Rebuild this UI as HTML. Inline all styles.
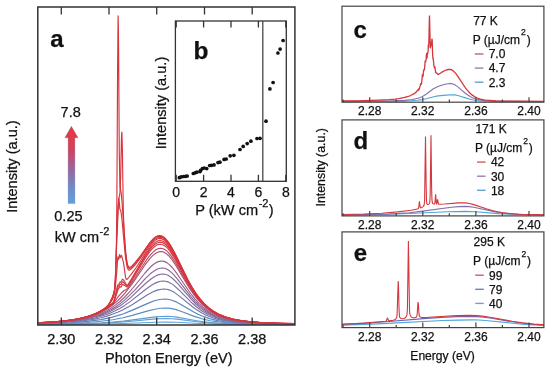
<!DOCTYPE html>
<html><head><meta charset="utf-8"><style>
html,body{margin:0;padding:0;background:#fff;width:550px;height:370px;overflow:hidden}
svg{display:block;font-family:"Liberation Sans",sans-serif;will-change:transform}
text{stroke:#111;stroke-width:0.25px}
</style></head><body>
<svg width="550" height="370" viewBox="0 0 550 370" font-family="Liberation Sans, sans-serif" fill="#111"><g fill="none" stroke-width="1.15" stroke-linejoin="round" clip-path="url(#clipa)"><path d="M19.5,324.4 L70.4,324.3 L101.4,324 L123.6,323.5 L155.8,322.2 L167,322 L177.3,322.2 L203.7,323.7 L219.5,324.1 L246,324.4 L296.1,324.5" stroke="rgb(94,166,216)" /><path d="M19.5,324.4 L70.4,324.1 L101.4,323.3 L123.6,322 L155.5,318.9 L166.8,318.5 L171.8,318.7 L177,319.1 L195.2,321.5 L203.5,322.5 L219.3,323.6 L245.7,324.2 L296.1,324.4" stroke="rgb(93,160,212)" /><path d="M19.5,324.3 L70.1,323.9 L87.1,323.5 L101.1,322.9 L112.6,322.1 L123.3,321.1 L155.3,316.9 L161,316.5 L166.5,316.3 L171.5,316.5 L176.8,317.1 L195.2,320.5 L203.3,321.7 L210.9,322.6 L219,323.2 L230.7,323.8 L245.5,324.1 L296.1,324.4" stroke="rgb(92,156,208)" /><path d="M19.5,324.2 L48.9,323.8 L70.4,323.3 L87.3,322.5 L101.1,321.3 L112.6,319.7 L123.1,317.7 L132.2,315.4 L148.9,310.6 L154.8,309.2 L160.6,308.3 L165.8,308 L170.8,308.4 L176.1,309.6 L180.8,311.2 L194.4,316.4 L202.8,319 L210.2,320.7 L218.3,321.9 L230,323 L245,323.7 L265.3,324.1 L296.1,324.3" stroke="rgb(89,142,197)" /><path d="M19.5,324 L48.9,323.5 L70.1,322.7 L87.1,321.4 L100.9,319.6 L112.4,317.1 L122.9,314 L131.9,310.4 L148.4,303.1 L154.4,300.8 L159.8,299.5 L165.1,299 L167.5,299.2 L170.1,299.7 L172.7,300.5 L175.4,301.6 L180.1,304 L193.7,312 L198,314.2 L202.1,316 L209.7,318.6 L217.8,320.6 L223.3,321.5 L229.5,322.2 L244.5,323.3 L264.8,323.9 L296.1,324.2" stroke="rgb(94,130,186)" /><path d="M19.5,323.8 L49.1,323.2 L70.6,322 L79.4,321.2 L87.3,320.3 L94.5,319.1 L101.1,317.7 L106.9,316.1 L112.4,314.3 L117.6,312.3 L122.6,309.9 L131.7,304.9 L147.9,294.6 L153.6,291.6 L156.5,290.4 L159.1,289.6 L161.8,289.2 L164.1,289 L166.5,289.2 L169.1,289.9 L171.8,291 L174.6,292.6 L179.4,296.1 L192.8,307 L197.1,310.1 L201.1,312.6 L204.9,314.6 L208.8,316.3 L212.8,317.8 L217.1,319.1 L222.8,320.4 L229,321.4 L236,322.2 L244.1,322.9 L264.6,323.7 L296.1,324.2" stroke="rgb(111,120,171)" /><path d="M19.5,323.7 L49.4,322.9 L60.8,322.3 L70.8,321.5 L79.7,320.6 L87.5,319.4 L94.7,318 L101.1,316.3 L105.9,314.7 L110.7,312.9 L115.2,310.8 L119.8,308.4 L124.8,305.4 L129.8,301.9 L145.8,289.2 L151.5,285.2 L154.6,283.4 L157.7,282.1 L160.6,281.3 L163.4,281 L165.8,281.2 L168.4,282.1 L171.1,283.4 L173.9,285.4 L178.7,289.7 L192.3,303.3 L196.6,307 L200.6,310 L204.5,312.5 L208.3,314.5 L212.3,316.3 L216.6,317.9 L222.4,319.5 L228.6,320.7 L235.5,321.7 L243.6,322.5 L252.9,323.1 L264.3,323.5 L296.1,324.1" stroke="rgb(126,113,161)" /><path d="M19.5,323.6 L49.6,322.7 L61.1,322 L71.1,321.2 L79.9,320.1 L87.8,318.7 L94.9,317 L101.4,315.1 L106.2,313.3 L110.9,311.1 L115.5,308.6 L119.8,306 L124.8,302.4 L129.8,298.3 L145.5,283.5 L151.3,278.7 L154.4,276.7 L157.5,275.1 L160.3,274.3 L162.9,274 L165.3,274.3 L168,275.3 L170.6,276.9 L173.2,279 L178.2,284.2 L191.6,299.7 L195.9,304 L199.9,307.6 L203.7,310.4 L207.8,313 L211.9,315 L216.2,316.8 L221.9,318.7 L228.1,320.1 L235.2,321.3 L243.4,322.2 L252.7,322.9 L264.1,323.4 L296.1,324" stroke="rgb(133,108,156)" /><path d="M19.5,323.5 L49.8,322.6 L61.3,321.8 L71.3,320.9 L80.1,319.6 L88,318.1 L95.2,316.3 L101.6,314.1 L106.4,312 L110.9,309.7 L115.5,307 L119.8,303.9 L124.5,300.1 L129.5,295.4 L134.6,290.3 L145.5,278.4 L151,273.2 L154.1,270.9 L157,269.3 L159.8,268.3 L162.5,268 L164.9,268.3 L167.5,269.5 L170.1,271.3 L172.7,273.7 L177.5,279.1 L191.1,296.8 L195.4,301.6 L199.4,305.6 L203.3,308.7 L207.3,311.6 L211.4,313.9 L215.7,315.9 L221.4,318 L227.6,319.6 L234.8,320.9 L242.9,322 L252.4,322.7 L263.9,323.3 L296.1,324" stroke="rgb(139,103,151)" /><path d="M19.5,323.5 L36.2,323 L50.1,322.4 L61.8,321.6 L71.8,320.5 L80.6,319.2 L88.5,317.5 L95.4,315.5 L101.9,313 L106.6,310.7 L111.2,308 L115.7,304.9 L120,301.5 L124.8,297 L129.8,291.7 L134.6,286 L145,273 L150.5,267 L153.6,264.3 L156.5,262.4 L159.1,261.4 L161.8,261 L164.1,261.4 L166.8,262.6 L169.4,264.6 L172.2,267.5 L177,273.7 L186.6,287.8 L190.6,293.5 L194.9,298.9 L199,303.3 L202.8,306.9 L206.8,310 L210.9,312.7 L215.2,314.9 L220.9,317.2 L227.1,319 L234.3,320.5 L242.6,321.7 L252.2,322.5 L263.6,323.1 L296.1,323.9" stroke="rgb(152,95,138)" /><path d="M19.5,323.4 L36.7,322.9 L50.8,322.2 L62.5,321.3 L72.5,320.1 L81.3,318.6 L89,316.7 L95.9,314.4 L102.3,311.6 L107.3,308.7 L111.9,305.6 L116.2,302.1 L120.5,298 L125.2,292.8 L130,286.7 L134.6,280.4 L144.8,265.2 L150.1,258.4 L152.9,255.4 L155.8,253.2 L158.4,251.9 L161,251.5 L163.4,251.9 L166,253.4 L168.7,255.7 L171.3,258.8 L176.3,266.2 L185.6,282 L189.9,288.9 L194.2,295.1 L198.3,300.2 L202.1,304.3 L206.1,307.9 L210.2,310.9 L214.5,313.5 L220.2,316.1 L226.6,318.3 L233.8,320 L242.2,321.3 L251.7,322.2 L263.4,323 L277.7,323.5 L296.1,323.8" stroke="rgb(176,81,113)" /><path d="M19.5,323.4 L37,322.9 L51,322.2 L62.7,321.2 L72.8,320 L81.6,318.4 L89.2,316.5 L96.1,314.1 L102.6,311.1 L108.1,307.8 L112.8,304.2 L114.5,302.3 L117.6,297.3 L122.1,292.2 L123.8,290.7 L126.4,289.4 L127.6,288.3 L133.4,280.2 L145.8,261 L148.9,256.7 L151.5,253.6 L153.9,251.3 L156.3,249.5 L158.6,248.5 L160.8,248.2 L163.2,248.7 L165.8,250.2 L168.4,252.6 L171.1,255.9 L176.1,263.6 L185.4,280.2 L189.4,287 L193.7,293.5 L198,299.1 L201.8,303.4 L205.9,307.2 L209.9,310.3 L214.2,313 L220,315.8 L226.4,318 L233.6,319.8 L241.9,321.1 L251.5,322.1 L263.2,322.9 L277.5,323.4 L296.1,323.8" stroke="rgb(189,73,96)" /><path d="M19.5,323.4 L37,322.9 L51.3,322.1 L63,321.2 L73,319.9 L81.8,318.2 L89.5,316.2 L96.4,313.7 L102.8,310.5 L109,306.6 L112.1,304.1 L113.3,302.9 L114,301.7 L114.7,299.9 L118.6,288.1 L119.3,288 L120,286.9 L120.2,286.8 L121,287.1 L121.2,286.9 L122.4,284.3 L122.6,284.3 L123.3,284.9 L124.5,285.4 L126.4,286.9 L127.2,286.8 L128.1,286 L133.4,278 L145.8,257.5 L148.9,253 L151.5,249.7 L153.9,247.2 L156,245.6 L158.2,244.6 L160.3,244.2 L162.7,244.7 L165.3,246.2 L168,248.7 L170.8,252.4 L175.6,260.2 L185.1,278 L189.2,285.2 L193.5,292 L197.8,297.9 L201.6,302.4 L205.7,306.4 L209.7,309.6 L214,312.5 L219.7,315.4 L226.2,317.7 L233.3,319.5 L241.7,321 L251.2,322 L262.9,322.8 L277.5,323.4 L296.1,323.8" stroke="rgb(207,61,75)" /><path d="M19.5,323.4 L37.2,322.8 L51.3,322.1 L63.2,321.1 L73.2,319.8 L82.1,318.1 L89.7,316.1 L96.6,313.5 L103.1,310.2 L109.3,306.1 L112.1,303.8 L113.3,302.4 L114,301.1 L114.7,299 L118.1,286.5 L118.3,286.3 L118.8,286.6 L119,286.5 L120,284.4 L120.2,284.3 L121,284.5 L121.2,284.3 L122.1,282.1 L122.4,281.7 L122.6,281.7 L124.5,283.3 L126.4,285.8 L127.2,285.9 L127.9,285.4 L129.5,283.1 L133.1,277.3 L145,256.9 L149.6,250.1 L152.4,246.6 L155.1,244.2 L157.7,242.7 L160.1,242.2 L162.5,242.6 L165.1,244.2 L167.7,246.7 L170.6,250.5 L175.4,258.5 L184.9,276.7 L189,284.1 L193.2,291.1 L197.5,297.2 L201.4,301.8 L205.4,305.8 L209.5,309.2 L213.8,312.1 L219.5,315.1 L225.9,317.5 L233.1,319.4 L241.4,320.9 L251.2,322 L262.9,322.8 L277.5,323.4 L296.1,323.7" stroke="rgb(214,56,66)" /><path d="M19.5,323.4 L37.2,322.8 L51.5,322.1 L63.4,321.1 L73.5,319.8 L82.3,318 L89.9,315.9 L96.9,313.3 L103.1,310.1 L106.4,307.9 L109.5,305.7 L112.1,303.5 L113.3,302.1 L114,300.6 L114.7,298.2 L117.6,285.2 L117.8,284.9 L118.6,285 L118.8,284.8 L120,282 L120.2,281.9 L121,282.1 L121.2,281.9 L122.1,279.6 L122.4,279.3 L122.6,279.2 L124.3,281 L126.4,284.7 L127.2,285.1 L127.9,284.6 L129.5,282.3 L133.1,276.4 L145.3,255 L149.6,248.4 L152.4,244.9 L155.1,242.5 L157.7,240.9 L160.1,240.5 L162.5,241 L165.1,242.6 L167.7,245.3 L170.3,248.8 L175.4,257.4 L184.7,275.5 L189,283.5 L193.2,290.6 L197.3,296.5 L201.1,301.2 L205.2,305.4 L209.2,308.8 L213.8,311.9 L219.5,315 L225.9,317.4 L233.1,319.3 L241.4,320.8 L251.2,321.9 L262.9,322.8 L277.5,323.3 L296.1,323.7" stroke="rgb(215,55,64)" /><path d="M19.5,323.4 L37.2,322.8 L51.5,322.1 L63.2,321.1 L73.2,319.8 L82.1,318.1 L89.7,315.9 L96.6,313.3 L102.6,310.1 L106.2,307.6 L109,304.7 L111.9,300.4 L113.1,298.1 L113.8,296.2 L114.7,291.6 L115.5,285.4 L116.9,270.1 L117.8,257.1 L118.1,257 L118.6,259.4 L118.8,259.1 L119.5,254.5 L119.8,254.9 L120.2,257.3 L120.5,257.6 L121.2,255.7 L121.4,255.4 L121.7,255.8 L123.6,263.2 L125.5,276.9 L126.2,279.2 L126.4,279.4 L126.9,279.4 L127.9,278.5 L131.7,273.6 L136.2,267.5 L139.8,262 L147.2,250 L151.3,244.2 L153.6,241.6 L155.8,239.9 L157.9,238.8 L159.8,238.5 L161,238.6 L162.2,239 L164.9,240.6 L167.5,243.3 L170.3,247.3 L175.1,255.6 L184.7,274.7 L188.7,282.4 L193,289.7 L197.3,296 L201.1,300.8 L205.2,305.1 L209.2,308.6 L213.5,311.6 L219.3,314.7 L225.7,317.2 L233.1,319.2 L241.4,320.8 L251.2,321.9 L262.9,322.7 L277.5,323.3 L296.1,323.7" stroke="rgb(215,54,63)" /><path d="M19.5,323.4 L39.6,322.7 L55.3,321.8 L68.2,320.5 L79,318.7 L84,317.6 L88.7,316.2 L93,314.7 L97.1,313 L100.9,311 L104,309.1 L106.4,307.2 L108.3,305.1 L110.7,301.5 L112.8,296.9 L113.8,294 L114.5,289.6 L115.5,274.8 L116.9,237.8 L118.8,198.2 L119,198.9 L119.8,208.3 L120,209.5 L120.5,210.2 L121,211.7 L121.9,218.6 L125,252.7 L126,261 L127.2,267.2 L127.9,269 L128.6,269.9 L129.5,270.1 L130.7,269.4 L132.4,267.8 L135.5,264.3 L140.3,258.1 L149.1,245.5 L153.2,240.7 L155.3,238.9 L157.5,237.7 L159.6,237.3 L161.5,237.6 L163.7,238.6 L166,240.7 L168.4,243.6 L170.8,247.1 L175.4,255.3 L184.2,273.2 L188.2,281.1 L192.3,288.2 L196.3,294.4 L200.4,299.7 L204.5,304.2 L208.8,308 L213.3,311.3 L219,314.5 L225.5,317.1 L232.9,319.1 L241.2,320.7 L251,321.8 L262.7,322.7 L277.2,323.3 L296.1,323.7" stroke="rgb(215,53,62)" /><path d="M19.5,323.4 L41.3,322.6 L58,321.6 L71.3,320 L77,319.1 L82.3,317.9 L87.5,316.5 L92.6,314.8 L97.1,312.9 L101.4,310.7 L104.2,308.8 L106.6,306.8 L108.5,304.6 L110.5,301.6 L112.1,298.1 L113.8,293.7 L114.5,290.2 L115,285.4 L115.7,270.8 L117.1,225 L117.8,208.5 L118.6,199.9 L119.8,194.2 L120.2,188.4 L120.7,174.4 L121.4,140.4 L121.7,133.1 L121.9,132.1 L122.4,150.8 L123.3,210.9 L124.1,231.9 L125,246.5 L126.2,258.7 L127.4,265.3 L127.9,266.8 L128.6,268 L129.1,268.4 L129.5,268.5 L130.7,268 L132.4,266.4 L135.5,263 L140.5,256.6 L149.3,243.9 L151.5,241.2 L153.4,239.2 L155.5,237.5 L157.7,236.4 L159.6,236.1 L161.5,236.4 L163.7,237.5 L166,239.6 L168.4,242.6 L170.8,246.2 L175.4,254.6 L188,280.2 L192.1,287.5 L196.1,293.8 L200.2,299.2 L204.2,303.8 L208.5,307.7 L213.3,311.2 L219,314.4 L225.5,317 L232.9,319.1 L241.2,320.6 L251,321.8 L262.7,322.7 L277.2,323.3 L296.1,323.7" stroke="rgb(216,52,61)" /><path d="M19.5,323.4 L44.6,322.5 L54.4,321.9 L63,321.1 L70.6,320.1 L77.5,319 L83.7,317.6 L89.2,316 L94.5,314 L99.2,311.8 L103.3,309.4 L106.2,307.2 L108.3,304.8 L110.2,301.8 L112.1,297.7 L114,292.4 L114.5,290.6 L115,287.3 L115.5,280.6 L115.9,268 L116.4,244.5 L116.9,196.3 L117.6,67.3 L118.1,15.8 L118.3,23.5 L118.6,50.7 L119.3,152.5 L119.8,181.6 L120,186.6 L121.2,193.4 L121.9,200.5 L125.7,252.4 L126.9,261.6 L127.6,264.7 L128.3,266.4 L128.8,267 L129.3,267.3 L129.8,267.3 L130.5,267 L132.2,265.6 L135,262.6 L140.5,255.9 L149.8,242.7 L153.6,238.4 L155.8,236.7 L157.7,235.8 L159.6,235.5 L161.5,235.8 L163.7,237 L166,239.1 L168.4,242.1 L170.8,245.8 L175.4,254.2 L188,280 L192.1,287.3 L196.1,293.7 L200.2,299.1 L204.2,303.7 L208.5,307.6 L213,311 L218.8,314.2 L225.2,316.9 L232.6,319 L241,320.6 L250.7,321.8 L262.4,322.6 L277.2,323.3 L296.1,323.7" stroke="rgb(216,52,60)" /></g>
<rect x="37.8" y="7.0" width="257.1" height="318.0" fill="none" stroke="#333" stroke-width="1.5"/>
<path d="M61.3,7.0v7.5 M61.3,325.0v-7.5 M109.0,7.0v7.5 M109.0,325.0v-7.5 M156.7,7.0v7.5 M156.7,325.0v-7.5 M204.5,7.0v7.5 M204.5,325.0v-7.5 M252.2,7.0v7.5 M252.2,325.0v-7.5" stroke="#333" stroke-width="1.3" fill="none"/>
<text x="61.3" y="344" font-size="14.5" text-anchor="middle">2.30</text>
<text x="109.0" y="344" font-size="14.5" text-anchor="middle">2.32</text>
<text x="156.7" y="344" font-size="14.5" text-anchor="middle">2.34</text>
<text x="204.5" y="344" font-size="14.5" text-anchor="middle">2.36</text>
<text x="252.2" y="344" font-size="14.5" text-anchor="middle">2.38</text>
<text x="168.8" y="362.8" font-size="14.5" text-anchor="middle">Photon Energy (eV)</text>
<text transform="translate(16.8,166.5) rotate(-90)" font-size="14.6" text-anchor="middle">Intensity (a.u.)</text>
<text x="50.2" y="46.6" font-size="24" font-weight="bold">a</text>
<defs><linearGradient id="ag" x1="0" y1="0" x2="0" y2="1"><stop offset="0" stop-color="rgb(232,55,58)"/><stop offset="0.3" stop-color="rgb(212,66,88)"/><stop offset="0.58" stop-color="rgb(150,105,160)"/><stop offset="0.8" stop-color="rgb(112,140,200)"/><stop offset="1" stop-color="rgb(95,160,220)"/></linearGradient>
<clipPath id="clipa"><rect x="37.8" y="7" width="257.1" height="318"/></clipPath>
<clipPath id="clipc"><rect x="342" y="6.2" width="201.9" height="96"/></clipPath>
<clipPath id="clipd"><rect x="342" y="119.9" width="201.9" height="96"/></clipPath>
<clipPath id="clipe"><rect x="342" y="231.9" width="201.9" height="95.7"/></clipPath>
</defs>
<path d="M71.4,126.3 L78.1,137.8 L74.9,137.8 L74.9,203.5 L68.1,203.5 L68.1,137.8 L64.8,137.8 Z" fill="url(#ag)" stroke="rgb(105,115,175)" stroke-width="0.5" stroke-opacity="0.6" stroke-linejoin="miter"/>
<text x="60.6" y="117.3" font-size="14.5">7.8</text>
<text x="54.3" y="221.3" font-size="14.5">0.25</text>
<text x="54.8" y="242.4" font-size="14.5">kW cm<tspan dy="-7" font-size="11" dx="0.5">-2</tspan></text>
<rect x="175.4" y="21.0" width="110.9" height="160.3" fill="white" stroke="#333" stroke-width="1.3"/>
<path d="M176.2,21.0v6.5 M176.2,181.3v-6.5 M203.6,21.0v6.5 M203.6,181.3v-6.5 M231.0,21.0v6.5 M231.0,181.3v-6.5 M258.4,21.0v6.5 M258.4,181.3v-6.5 M285.8,21.0v6.5 M285.8,181.3v-6.5" stroke="#333" stroke-width="1.3" fill="none"/>
<line x1="262.8" y1="21.0" x2="262.8" y2="181.3" stroke="#484848" stroke-width="1.3"/>
<text x="176.2" y="196.6" font-size="14" text-anchor="middle">0</text>
<text x="203.6" y="196.6" font-size="14" text-anchor="middle">2</text>
<text x="231.0" y="196.6" font-size="14" text-anchor="middle">4</text>
<text x="258.4" y="196.6" font-size="14" text-anchor="middle">6</text>
<text x="285.8" y="196.6" font-size="14" text-anchor="middle">8</text>
<text x="195.2" y="215.4" font-size="14.6">P (kW cm<tspan dy="-8.5" font-size="11" dx="0.5">-2</tspan><tspan dy="8.5" dx="0.3">)</tspan></text>
<text transform="translate(165.9,149.2) rotate(-90)" font-size="14.6">Intensity (a.u.)</text>
<text x="193.4" y="58.8" font-size="24.5" font-weight="bold">b</text>
<g fill="#111"><circle cx="179.3" cy="177.7" r="1.85"/><circle cx="181.1" cy="176.9" r="1.85"/><circle cx="183.6" cy="176.5" r="1.85"/><circle cx="185.6" cy="176.3" r="1.85"/><circle cx="187.2" cy="176" r="1.85"/><circle cx="193.3" cy="173.5" r="1.85"/><circle cx="195.1" cy="172.8" r="1.85"/><circle cx="196.9" cy="172.2" r="1.85"/><circle cx="200" cy="171.6" r="1.85"/><circle cx="200.6" cy="170.4" r="1.85"/><circle cx="202.4" cy="168.6" r="1.85"/><circle cx="204.2" cy="168" r="1.85"/><circle cx="206.7" cy="168.6" r="1.85"/><circle cx="209.7" cy="165.5" r="1.85"/><circle cx="211.5" cy="165.3" r="1.85"/><circle cx="214" cy="164.9" r="1.85"/><circle cx="218" cy="162.6" r="1.85"/><circle cx="219.9" cy="162.2" r="1.85"/><circle cx="224.1" cy="159.4" r="1.85"/><circle cx="226.2" cy="159" r="1.85"/><circle cx="230.2" cy="155.8" r="1.85"/><circle cx="233.9" cy="155.3" r="1.85"/><circle cx="240" cy="149.5" r="1.85"/><circle cx="243.2" cy="146.4" r="1.85"/><circle cx="247.2" cy="143.6" r="1.85"/><circle cx="250.9" cy="141.2" r="1.85"/><circle cx="257" cy="138.5" r="1.85"/><circle cx="260" cy="138.3" r="1.85"/><circle cx="266" cy="121.2" r="1.85"/><circle cx="269.9" cy="88.9" r="1.85"/><circle cx="273.1" cy="82.5" r="1.85"/><circle cx="277.9" cy="53" r="1.85"/><circle cx="280.1" cy="49.1" r="1.85"/><circle cx="283.1" cy="40.5" r="1.85"/></g>
<path d="M340.4,101.5 L391.4,101.3 L403,101.1 L411.3,100.7 L417.3,100.2 L422.2,99.6 L426.1,98.7 L433.8,96.7 L438,95.9 L446.2,95.1 L452.1,94.8 L454.9,94.9 L457.8,95.5 L467.9,98.6 L472.4,99.7 L476.6,100.5 L481.4,101 L487.5,101.3 L496.6,101.4 L545.5,101.6" stroke="rgb(80,165,215)" stroke-width="1.1" fill="none" clip-path="url(#clipc)"/>
<path d="M340.4,101.4 L372.6,101.2 L392.7,100.9 L404.2,100.4 L412.3,99.5 L418,98.2 L420.4,97.4 L422.5,96.4 L426.1,94.3 L433.4,88.8 L435.4,87.7 L437.5,86.7 L440.8,85.5 L445.1,84.3 L447.8,83.7 L450.2,83.5 L451.6,83.6 L452.9,83.9 L454.3,84.6 L455.8,85.4 L458.5,87.4 L465.9,93.7 L468.2,95.3 L470.4,96.7 L472.5,97.8 L474.8,98.7 L479.6,99.9 L485.8,100.7 L495.1,101.1 L513.9,101.4 L545.5,101.5" stroke="rgb(128,112,170)" stroke-width="1.1" fill="none" clip-path="url(#clipc)"/>
<path d="M340.4,101 L357.2,100.8 L379.1,100.2 L389.4,99.7 L394.9,99.2 L398.7,98.7 L406,97.2 L406.8,96.7 L407.7,96.6 L408.1,96.4 L409.5,96 L411.7,94.8 L412.5,94.6 L413.1,94.1 L413.7,94.1 L415.3,92.8 L416.1,91.9 L416.4,91.7 L416.5,91.8 L417,91.2 L417.7,89.9 L418.1,89.7 L418.5,90 L418.6,89.6 L418.8,89.9 L419.4,88.6 L420.5,84.7 L420.8,83.2 L420.9,83.8 L421.2,84 L421.3,83.7 L421.4,83.8 L421.7,82.3 L422.5,74.1 L422.8,76.2 L422.9,75.9 L423,76.2 L423.1,76.1 L423.5,71.1 L423.8,69.8 L424.1,69.7 L424.2,70 L424.3,69.9 L424.6,68.5 L425,62.6 L425.4,60.4 L425.5,61.4 L425.7,61.5 L425.8,60.4 L425.9,60.8 L426.2,58.7 L426.3,55.4 L426.6,54.5 L426.7,53 L426.9,56.7 L427.1,58.5 L427.4,52.5 L427.5,54.3 L427.7,52.4 L427.8,53.5 L427.9,52.7 L428.2,49.6 L428.3,44.7 L428.5,47.4 L428.9,41.7 L429.3,21.2 L429.5,15.5 L430.3,48.3 L430.7,45.1 L430.8,46.6 L431.1,42.4 L431.4,45.6 L431.6,44.5 L431.9,38.7 L432.2,40.4 L432.7,56.5 L433.1,58.9 L433.2,58.8 L433.4,61 L433.6,61.8 L434,66.6 L434.2,66.1 L434.4,67.8 L434.6,67.8 L434.8,67 L435,67.1 L435.4,70.8 L435.9,73 L436,72.6 L436.3,73 L436.7,73.1 L437.8,74.3 L438.5,74.1 L438.7,74.2 L440.4,73.3 L442.8,71.6 L446.1,70 L448.1,69.5 L450,69.4 L451.2,69.7 L452.5,70.3 L454.3,71.9 L456.1,73.9 L457.8,76.3 L465.1,87.3 L467.5,90.4 L469.6,92.7 L472,94.9 L474.5,96.6 L477.3,98 L480.5,99.1 L483.9,99.8 L487,100.2 L495.9,100.8 L517,101.2 L545.5,101.4" stroke="rgb(214,55,60)" stroke-width="1.3" fill="none" clip-path="url(#clipc)"/>
<path d="M340.4,215 L367.8,214.7 L389.8,214.2 L409.6,213.5 L447,211.8 L465.2,211.4 L475.6,211.8 L498.3,213.6 L510.8,214.3 L525.5,214.8 L545.5,215" stroke="rgb(80,165,215)" stroke-width="1.1" fill="none" clip-path="url(#clipd)"/>
<path d="M340.4,214.9 L376.6,214.4 L389,214 L399.9,213.4 L409.5,212.7 L418.9,211.6 L451.4,207.2 L458.6,206.6 L465.2,206.4 L469.3,206.6 L473.7,207.2 L494.3,211.6 L500.4,212.6 L506.6,213.4 L513.8,214 L521.9,214.4 L545.5,214.8" stroke="rgb(128,112,170)" stroke-width="1.1" fill="none" clip-path="url(#clipd)"/>
<path d="M340.4,214.5 L364.1,214 L381.9,213.2 L397.5,211.9 L411.3,210.2 L416.2,209.2 L418,208.8 L418.4,208.5 L418.8,207.1 L419.4,201.4 L420.1,206.7 L420.4,207.7 L420.6,207.9 L421.2,207.7 L423,206.6 L423.8,205.6 L424.2,204.6 L424.6,200.6 L425.5,136.6 L426.2,188.6 L426.5,199.9 L426.7,203.1 L427,203.9 L427.4,204.3 L427.8,204.5 L428.3,204.5 L428.9,204.1 L429.5,203.2 L429.8,202.3 L430.2,194.7 L431,135.2 L431.6,187.3 L431.9,198.6 L432.3,202.5 L432.7,203.3 L433.2,203.8 L434.3,204.2 L434.7,203.8 L435,202.2 L435.6,194.3 L436.3,202.2 L436.4,203.2 L436.7,203.9 L437,203.2 L437.6,199.3 L438.3,203.2 L438.5,204.1 L438.8,204.2 L444.7,204 L458.2,202.9 L463,202.8 L465.8,202.9 L469.2,203.5 L472.9,204.4 L486.3,208.8 L492.2,210.5 L497.6,211.8 L503.1,212.8 L510.4,213.6 L518.9,214.2 L529.6,214.5 L545.5,214.8" stroke="rgb(214,55,60)" stroke-width="1.1" fill="none" clip-path="url(#clipd)"/>
<path d="M340.4,325.2 L377.5,323.9 L442.9,320.5 L458.1,320.1 L472.1,319.9 L478.6,320 L485.5,320.5 L522.2,324.1 L533.6,325 L545.5,325.5" stroke="rgb(80,165,215)" stroke-width="1.1" fill="none" clip-path="url(#clipe)"/>
<path d="M340.4,324.5 L358.5,323.6 L376.7,322.5 L426.7,318.4 L441.5,317.4 L456.7,316.6 L470.8,316.4 L477.2,316.6 L483.9,317.2 L491.4,318.3 L511,321.5 L521.4,323 L533.2,324.3 L545.5,325.1" stroke="rgb(105,100,185)" stroke-width="1.1" fill="none" clip-path="url(#clipe)"/>
<path d="M340.4,324.3 L364.1,323 L385.4,321.3 L386,321.1 L386.4,320.7 L387.2,318.4 L387.4,318.1 L387.7,318.3 L388.5,320.4 L389,320.8 L393.3,320.2 L394.6,319.7 L395.5,319.2 L396.3,318.3 L396.7,317.5 L397.1,314.3 L398.2,281 L398.5,286.2 L399,308 L399.3,314 L399.5,316.5 L399.8,317.4 L400.2,318 L400.8,318.5 L401.8,318.8 L402.8,318.8 L404,318.5 L405,318 L405.8,317.2 L406.6,315.8 L407,314.4 L407.4,309 L408.4,241.1 L409.5,308.9 L409.7,313.2 L410,314.7 L410.7,316.3 L411.7,317.3 L413.1,317.8 L414.8,317.7 L416.1,317.2 L416.8,316.3 L417.2,314.2 L417.8,304.2 L418.1,302.2 L418.4,304.2 L418.9,312.7 L419.3,315.8 L419.6,316.5 L420,316.9 L421.4,317.5 L423,317.6 L425.7,317.5 L444.8,316.2 L457.1,315.6 L469.3,315.4 L476.2,315.6 L482.1,316.1 L488.5,317 L512,321.2 L522.7,322.8 L533.9,324.1 L545.5,325" stroke="rgb(214,55,60)" stroke-width="1.1" fill="none" clip-path="url(#clipe)"/>
<rect x="342.0" y="6.2" width="201.9" height="96.0" fill="none" stroke="#444" stroke-width="1.2"/>
<path d="M343.1,102.2v-2.6 M369.7,102.2v-5 M396.2,102.2v-2.6 M422.8,102.2v-5 M449.3,102.2v-2.6 M475.9,102.2v-5 M502.4,102.2v-2.6 M529.0,102.2v-5" stroke="#444" stroke-width="1.2" fill="none"/>
<text x="369.7" y="115.4" font-size="12" text-anchor="middle">2.28</text>
<text x="422.8" y="115.4" font-size="12" text-anchor="middle">2.32</text>
<text x="475.9" y="115.4" font-size="12" text-anchor="middle">2.36</text>
<text x="529.0" y="115.4" font-size="12" text-anchor="middle">2.40</text>
<rect x="342.0" y="119.9" width="201.9" height="96.0" fill="none" stroke="#444" stroke-width="1.2"/>
<path d="M343.1,215.9v-2.6 M369.7,215.9v-5 M396.2,215.9v-2.6 M422.8,215.9v-5 M449.3,215.9v-2.6 M475.9,215.9v-5 M502.4,215.9v-2.6 M529.0,215.9v-5" stroke="#444" stroke-width="1.2" fill="none"/>
<text x="369.7" y="229.1" font-size="12" text-anchor="middle">2.28</text>
<text x="422.8" y="229.1" font-size="12" text-anchor="middle">2.32</text>
<text x="475.9" y="229.1" font-size="12" text-anchor="middle">2.36</text>
<text x="529.0" y="229.1" font-size="12" text-anchor="middle">2.40</text>
<rect x="342.0" y="231.9" width="201.9" height="95.7" fill="none" stroke="#444" stroke-width="1.2"/>
<path d="M343.1,327.6v-2.6 M369.7,327.6v-5 M396.2,327.6v-2.6 M422.8,327.6v-5 M449.3,327.6v-2.6 M475.9,327.6v-5 M502.4,327.6v-2.6 M529.0,327.6v-5" stroke="#444" stroke-width="1.2" fill="none"/>
<text x="369.7" y="340.8" font-size="12" text-anchor="middle">2.28</text>
<text x="422.8" y="340.8" font-size="12" text-anchor="middle">2.32</text>
<text x="475.9" y="340.8" font-size="12" text-anchor="middle">2.36</text>
<text x="529.0" y="340.8" font-size="12" text-anchor="middle">2.40</text>
<text x="353.6" y="37.9" font-size="24" font-weight="bold">c</text>
<text x="353.6" y="149.2" font-size="24" font-weight="bold">d</text>
<text x="353.8" y="261.3" font-size="24" font-weight="bold">e</text>
<text x="473.2" y="24.8" font-size="12">77 K</text><text x="472.7" y="43.6" font-size="12">P (µJ/cm<tspan dy="-8.2" font-size="8.6" dx="0.9">2</tspan><tspan dy="8.2" dx="0.9">)</tspan></text><line x1="474.8" y1="54.0" x2="483.4" y2="54.0" stroke="rgb(205, 95, 100)" stroke-width="1.4"/><text x="488.7" y="58.3" font-size="12">7.0</text><line x1="474.8" y1="68.1" x2="483.4" y2="68.1" stroke="rgb(150, 130, 180)" stroke-width="1.4"/><text x="488.7" y="72.4" font-size="12">4.7</text><line x1="474.8" y1="82.2" x2="483.4" y2="82.2" stroke="rgb(95, 165, 215)" stroke-width="1.4"/><text x="488.7" y="86.5" font-size="12">2.3</text>
<text x="475.4" y="132.9" font-size="12">171 K</text><text x="474.9" y="151.7" font-size="12">P (µJ/cm<tspan dy="-8.2" font-size="8.6" dx="0.9">2</tspan><tspan dy="8.2" dx="0.9">)</tspan></text><line x1="477.0" y1="162.1" x2="485.59999999999997" y2="162.1" stroke="rgb(205, 95, 100)" stroke-width="1.4"/><text x="490.9" y="166.4" font-size="12">42</text><line x1="477.0" y1="176.2" x2="485.59999999999997" y2="176.2" stroke="rgb(150, 130, 180)" stroke-width="1.4"/><text x="490.9" y="180.5" font-size="12">30</text><line x1="477.0" y1="190.3" x2="485.59999999999997" y2="190.3" stroke="rgb(95, 165, 215)" stroke-width="1.4"/><text x="490.9" y="194.6" font-size="12">18</text>
<text x="473.6" y="246.0" font-size="12">295 K</text><text x="473.1" y="264.8" font-size="12">P (µJ/cm<tspan dy="-8.2" font-size="8.6" dx="0.9">2</tspan><tspan dy="8.2" dx="0.9">)</tspan></text><line x1="475.20000000000005" y1="275.2" x2="483.8" y2="275.2" stroke="rgb(205, 95, 100)" stroke-width="1.4"/><text x="489.1" y="279.5" font-size="12">99</text><line x1="475.20000000000005" y1="289.3" x2="483.8" y2="289.3" stroke="rgb(125, 120, 190)" stroke-width="1.4"/><text x="489.1" y="293.6" font-size="12">79</text><line x1="475.20000000000005" y1="303.4" x2="483.8" y2="303.4" stroke="rgb(95, 170, 215)" stroke-width="1.4"/><text x="489.1" y="307.7" font-size="12">40</text>
<text x="442.6" y="359.9" font-size="12.1" text-anchor="middle">Energy (eV)</text>
<text transform="translate(325.0,167.3) rotate(-90)" font-size="12.4" text-anchor="middle">Intensity (a.u.)</text></svg>
</body></html>
